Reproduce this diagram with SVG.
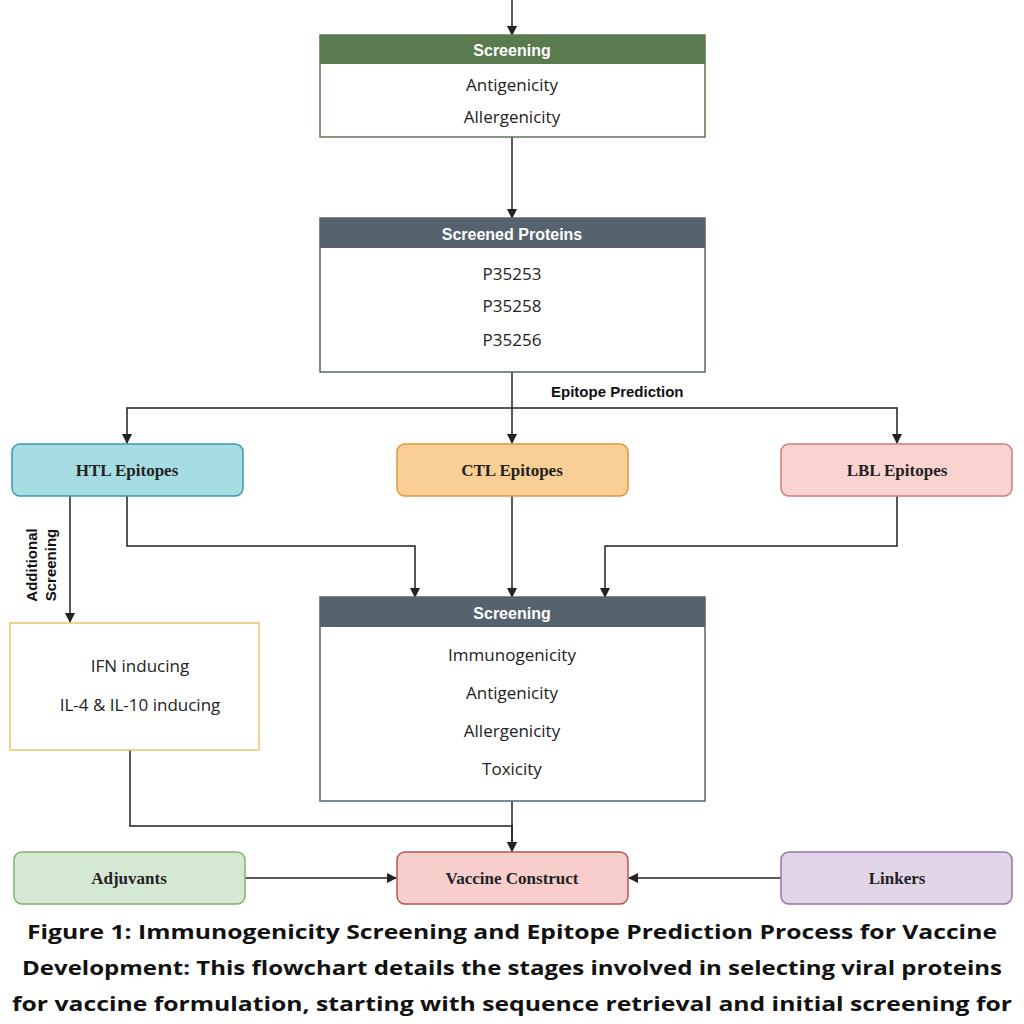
<svg xmlns="http://www.w3.org/2000/svg" width="1024" height="1024" viewBox="0 0 1024 1024">
<style>
.hd{font-family:"Liberation Sans",Arial,sans-serif;font-weight:bold;font-size:16px;fill:#fff;text-anchor:middle}
.t{font-family:"Open Sans","DejaVu Sans",sans-serif;font-size:17px;fill:#222;text-anchor:middle}
.ep{font-family:"Liberation Serif",serif;font-weight:bold;font-size:17px;fill:#222;text-anchor:middle}
.lb{font-family:"Liberation Sans",Arial,sans-serif;font-weight:bold;font-size:15px;fill:#111}
.cap{font-family:"Open Sans","DejaVu Sans",sans-serif;font-weight:bold;font-size:20px;fill:#111;text-anchor:middle}
.c{fill:none;stroke:#222;stroke-width:1.5;marker-end:url(#a)}
</style>
<defs><marker id="a" markerWidth="10" markerHeight="10" refX="9" refY="5" orient="auto" markerUnits="userSpaceOnUse"><path d="M0,0 L10,5 L0,10 z" fill="#222"/></marker></defs>
<rect width="1024" height="1024" fill="#fff"/>
<g id="connectors">
<path class="c" d="M512,0 V35"/>
<path class="c" d="M512,137 V218"/>
<path class="c" d="M512,372 V443"/>
<path class="c" d="M512,408 H127 V443"/>
<path class="c" d="M512,408 H897 V443"/>
<path class="c" d="M127,496 V546 H415 V597"/>
<path class="c" d="M512,496 V597"/>
<path class="c" d="M897,496 V546 H605 V597"/>
<path class="c" d="M70,496 V622"/>
<path class="c" d="M130,750 V826 H512 V851"/>
<path class="c" d="M512,801 V851"/>
<path class="c" d="M245,878 H396"/>
<path class="c" d="M781,878 H629"/>
<text class="lb" x="551" y="397">Epitope Prediction</text>
<text class="lb" transform="translate(37,565) rotate(-90)" text-anchor="middle">Additional</text>
<text class="lb" transform="translate(56,565) rotate(-90)" text-anchor="middle">Screening</text>
</g>
<g id="screening1">
<rect x="320" y="35" width="385" height="102" fill="#fff" stroke="#5a7a50" stroke-width="1.5"/>
<rect x="320" y="35" width="385" height="29" fill="#5a7a50"/>
<text class="hd" x="512" y="56">Screening</text>
<text class="t" x="512" y="91">Antigenicity</text>
<text class="t" x="512" y="123">Allergenicity</text>
</g>
<g id="screened-proteins">
<rect x="320" y="218" width="385" height="154" fill="#fff" stroke="#56636f" stroke-width="1.5"/>
<rect x="320" y="218" width="385" height="30" fill="#56636f"/>
<text class="hd" x="512" y="240">Screened Proteins</text>
<text class="t" x="512" y="280">P35253</text>
<text class="t" x="512" y="312">P35258</text>
<text class="t" x="512" y="346">P35256</text>
</g>
<g id="htl"><rect x="12" y="444" width="231" height="52" rx="8" fill="#a6dde3" stroke="#3a9aa8" stroke-width="1.5"/><text class="ep" x="127" y="476">HTL Epitopes</text></g>
<g id="ctl"><rect x="397" y="444" width="231" height="52" rx="8" fill="#f9cf95" stroke="#d59a3a" stroke-width="1.5"/><text class="ep" x="512" y="476">CTL Epitopes</text></g>
<g id="lbl"><rect x="781" y="444" width="231" height="52" rx="8" fill="#f9d3d0" stroke="#d27a7a" stroke-width="1.5"/><text class="ep" x="897" y="476">LBL Epitopes</text></g>
<g id="ifn">
<rect x="10" y="623" width="249" height="127" fill="#fff" stroke="#e8c66a" stroke-width="1.5"/>
<text class="t" x="140" y="672">IFN inducing</text>
<text class="t" x="140" y="711">IL-4 &amp; IL-10 inducing</text>
</g>
<g id="screening2">
<rect x="320" y="597" width="385" height="204" fill="#fff" stroke="#56636f" stroke-width="1.5"/>
<rect x="320" y="597" width="385" height="30" fill="#56636f"/>
<text class="hd" x="512" y="619">Screening</text>
<text class="t" x="512" y="661">Immunogenicity</text>
<text class="t" x="512" y="699">Antigenicity</text>
<text class="t" x="512" y="737">Allergenicity</text>
<text class="t" x="512" y="775">Toxicity</text>
</g>
<g id="adjuvants"><rect x="14" y="852" width="231" height="52" rx="8" fill="#d5e8d4" stroke="#82b366" stroke-width="1.5"/><text class="ep" x="129" y="884">Adjuvants</text></g>
<g id="vaccine"><rect x="397" y="852" width="231" height="52" rx="8" fill="#f8cecc" stroke="#b85450" stroke-width="1.5"/><text class="ep" x="512" y="884">Vaccine Construct</text></g>
<g id="linkers"><rect x="781" y="852" width="231" height="52" rx="8" fill="#e1d5e7" stroke="#9673a6" stroke-width="1.5"/><text class="ep" x="897" y="884">Linkers</text></g>
<g id="caption">
<text class="cap" x="512" y="939" textLength="970" lengthAdjust="spacingAndGlyphs">Figure 1: Immunogenicity Screening and Epitope Prediction Process for Vaccine</text>
<text class="cap" x="512" y="975" textLength="980" lengthAdjust="spacingAndGlyphs">Development: This flowchart details the stages involved in selecting viral proteins</text>
<text class="cap" x="512" y="1011" textLength="1000" lengthAdjust="spacingAndGlyphs">for vaccine formulation, starting with sequence retrieval and initial screening for</text>
</g>
</svg>
